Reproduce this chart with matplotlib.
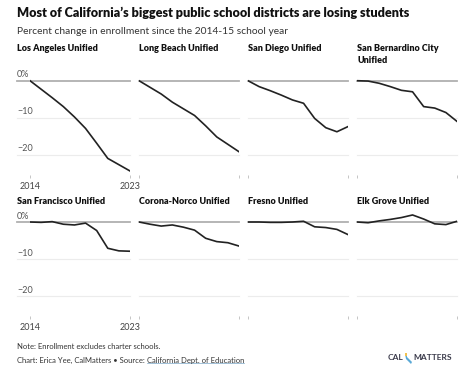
import matplotlib
matplotlib.use("Agg")
import matplotlib.pyplot as plt
from matplotlib.patches import Polygon

plt.rcParams['font.family'] = ['Lato', 'DejaVu Sans']

years = [2014, 2015, 2016, 2017, 2018, 2019, 2020, 2021, 2022, 2023]
districts = ["Los Angeles Unified", "Long Beach Unified", "San Diego Unified",
             "San Bernardino City\nUnified", "San Francisco Unified",
             "Corona-Norco Unified", "Fresno Unified", "Elk Grove Unified"]
la = [0, -2.3, -4.6, -7.0, -9.8, -12.9, -16.9, -21.0, -22.7, -24.4]
long_beach = [0, -1.8, -3.6, -5.8, -7.6, -9.4, -12.2, -15.2, -17.2, -19.2]
san_diego = [0, -1.6, -2.7, -3.9, -5.2, -6.1, -10.2, -12.7, -13.8, -12.4]
san_bern = [0, -0.1, -0.7, -1.6, -2.6, -3.0, -7.0, -7.4, -8.6, -11.0]
san_fran = [0, -0.1, 0.1, -0.6, -0.8, -0.3, -2.3, -7.1, -7.8, -7.9]
corona = [0, -0.6, -1.1, -0.8, -1.4, -2.2, -4.4, -5.3, -5.6, -6.5]
fresno = [0, 0, -0.1, -0.1, 0, 0.2, -1.3, -1.5, -2.0, -3.4]
elk_grove = [0, -0.2, 0.3, 0.7, 1.2, 1.9, 0.8, -0.5, -0.7, 0.2]
series = [la, long_beach, san_diego, san_bern, san_fran, corona, fresno, elk_grove]
y_ticks = [0, -10, -20]
y_labels = ["0%", "\u221210", "\u221220"]

W, H = 474, 374
fig = plt.figure(figsize=(W / 100, H / 100), dpi=100)

col_left = [30, 139, 248, 357]
row_zero = [80.7, 222]   # pixel y of the 0% line
px_per_unit = 3.7
ymin, ymax = -25.5, 3

for i, (name, vals) in enumerate(zip(districts, series)):
    r, c = divmod(i, 4)
    top_px = row_zero[r] - ymax * px_per_unit
    h_px = (ymax - ymin) * px_per_unit
    ax = fig.add_axes([col_left[c] / W, 1 - (top_px + h_px) / H, 100 / W, h_px / H])
    ax.set_xlim(2014, 2023)
    ax.set_ylim(ymin, ymax)
    for s in ax.spines.values():
        s.set_visible(False)
    ext = -0.13 if c == 0 else 0
    for t in y_ticks:
        if t == 0:
            ax.axhline(t, xmin=ext, xmax=1, color="#b0b0b0", lw=1.3, clip_on=False, zorder=1)
        else:
            ax.axhline(t, xmin=ext, xmax=1, color="#ececec", lw=0.8, clip_on=False, zorder=1)
    ax.plot(years, vals, color="#222222", lw=1.2, zorder=3, solid_joinstyle="round")
    ax.set_yticks([])
    ax.set_xticks([2014, 2023])
    ax.tick_params(axis="x", length=2, width=0.6, color="#bbbbbb", pad=3,
                   labelsize=6.5, labelcolor="#444444")
    if c == 0:
        ax.set_xticklabels(["2014", "2023"])
        for t, lab in zip(y_ticks, y_labels):
            ax.text(-0.13, t + 0.4, lab, transform=ax.get_yaxis_transform(),
                    ha="left", va="bottom", fontsize=6.5, color="#555555")
    else:
        ax.set_xticklabels([])
    tx = 17 if c == 0 else col_left[c]
    ty = 44 if r == 0 else 197
    fig.text(tx / W, 1 - ty / H, name, ha="left", va="top", fontsize=6.5,
             fontweight="heavy", color="#111111", linespacing=1.4)

fig.text(17 / W, 1 - 13 / H, "Most of California\u2019s biggest public school districts are losing students",
         ha="left", va="center", fontsize=9.1, fontweight="heavy", color="#111111")
fig.text(17 / W, 1 - 31 / H, "Percent change in enrollment since the 2014-15 school year",
         ha="left", va="center", fontsize=7.4, color="#333333")

fig.text(17 / W, 1 - 346.7 / H, "Note: Enrollment excludes charter schools.",
         ha="left", va="center", fontsize=5.5, color="#333333")
t1 = fig.text(17 / W, 1 - 360 / H, "Chart: Erica Yee, CalMatters \u2022 Source: ",
              ha="left", va="center", fontsize=5.5, color="#333333")
fig.canvas.draw()
bb = t1.get_window_extent()
t2 = fig.text(bb.x1 / W, 1 - 360 / H, "California Dept. of Education",
              ha="left", va="center", fontsize=5.5, color="#333333")
bb2 = t2.get_window_extent()
fig.add_artist(plt.Line2D([bb2.x0 / W, bb2.x1 / W], [(bb2.y0 + 0.5) / H] * 2,
                          color="#7aa7c7", lw=0.5))

# CalMatters logo
fig.text(388 / W, 1 - 358 / H, "CAL", ha="left", va="center", fontsize=6,
         fontweight="bold", color="#3a3a4a")
fig.text(413 / W, 1 - 358 / H, "MATTERS", ha="left", va="center", fontsize=6,
         fontweight="bold", color="#3a3a4a")
shape = [(405, 354), (407, 354), (407, 357), (412, 362), (411, 364), (406, 359)]
fig.add_artist(Polygon([(x / W, 1 - y / H) for x, y in shape], closed=True,
                       transform=fig.transFigure, color="#5aa9d6", lw=0))
fig.add_artist(Polygon([(x / W, 1 - y / H) for x, y in [(405, 353), (407, 353), (407, 356), (405, 356)]],
                       closed=True, transform=fig.transFigure, color="#f2c14e", lw=0))

fig.savefig("out.png", dpi=100, facecolor="white")
